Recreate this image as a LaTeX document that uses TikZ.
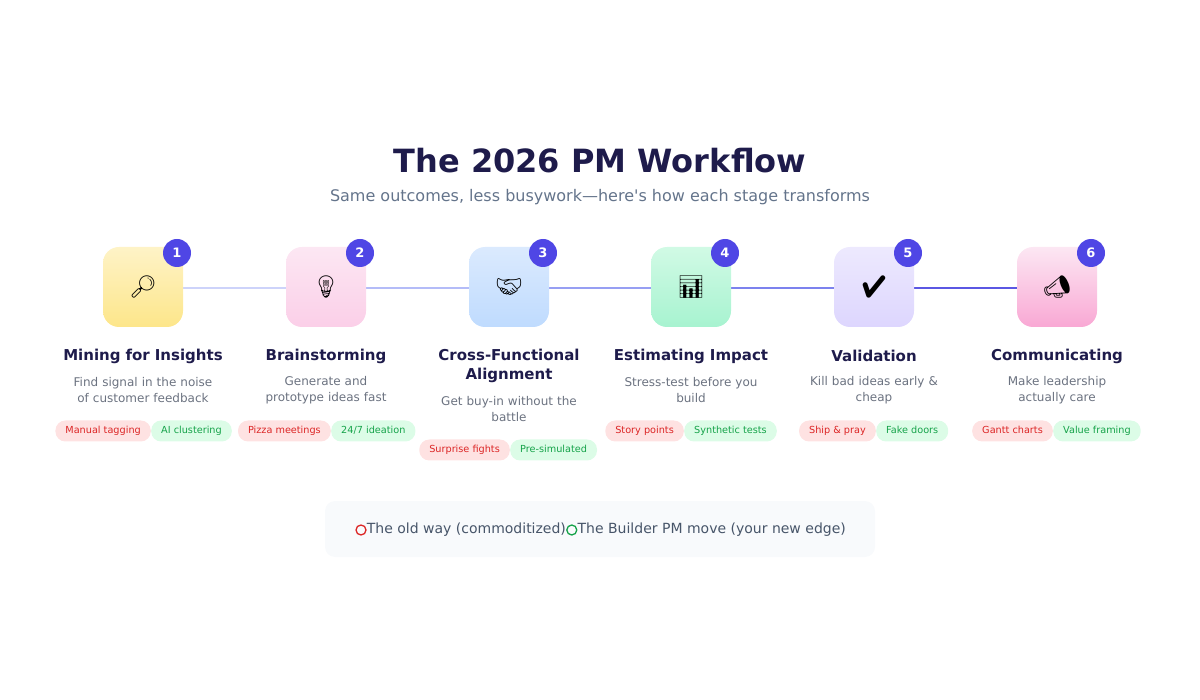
\documentclass[tikz,border=0pt]{standalone}
\usepackage{fontspec}
\setmainfont{DejaVu Sans}
\newfontfamily\emoji{Noto Emoji}
\usetikzlibrary{positioning}
\definecolor{ink}{HTML}{1E1B4B}
\definecolor{sub}{HTML}{64748B}
\definecolor{desc}{HTML}{6B7280}
\definecolor{badge}{HTML}{4F46E5}
\definecolor{redbg}{HTML}{FEE2E2}
\definecolor{redfg}{HTML}{DC2626}
\definecolor{grbg}{HTML}{DCFCE7}
\definecolor{grfg}{HTML}{16A34A}
\definecolor{lg}{HTML}{F8FAFC}
\definecolor{legtxt}{HTML}{475569}
\definecolor{la}{HTML}{CDD3FA}
\definecolor{lb}{HTML}{B4BCF8}
\definecolor{lc}{HTML}{979FF3}
\definecolor{ld}{HTML}{7C82EE}
\definecolor{le}{HTML}{5B57E3}
\definecolor{ya}{HTML}{FEF3C7}\definecolor{yb}{HTML}{FDE68A}
\definecolor{pa}{HTML}{FCE7F3}\definecolor{pb}{HTML}{FBCFE8}
\definecolor{ba}{HTML}{DBEAFE}\definecolor{bb}{HTML}{BFDBFE}
\definecolor{ga}{HTML}{D1FAE5}\definecolor{gb}{HTML}{A7F3D0}
\definecolor{va}{HTML}{EDE9FE}\definecolor{vb}{HTML}{DDD6FE}
\definecolor{qa}{HTML}{FCE7F3}\definecolor{qb}{HTML}{F9A8D4}
\tikzset{
 stepbox/.style={minimum width=80pt,minimum height=80pt,rounded corners=16pt,inner sep=0pt,font=\emoji\fontsize{22}{22}\selectfont},
 badgenode/.style={circle,fill=badge,text=white,minimum size=28pt,inner sep=0pt,font=\bfseries\fontsize{13}{13}\selectfont},
 steptitle/.style={align=center,text=ink,font=\bfseries\fontsize{15}{19}\selectfont,text width=175pt},
 stepdesc/.style={align=center,text=desc,font=\fontsize{12}{16}\selectfont,text width=175pt},
 tagbase/.style={rounded corners=10pt,minimum height=21pt,inner xsep=10pt,inner ysep=0pt,text height=7.5pt,text depth=2pt,font=\fontsize{9.7}{11}\selectfont},
 oldtag/.style={tagbase,fill=redbg,text=redfg,anchor=east},
 newtag/.style={tagbase,fill=grbg,text=grfg,anchor=west},
 conn/.style={line width=2.5pt},
 legtext/.style={inner sep=0pt,text=legtxt,font=\fontsize{14}{16}\selectfont}
}
\begin{document}
\begin{tikzpicture}[x=1pt,y=-1pt]
\useasboundingbox (0,0) rectangle (1200,700);
\node (title) at (600,161) [text=ink,font=\bfseries\fontsize{32}{38}\selectfont] {The 2026 PM Workflow};
\node (subtitle) at (600,197) [text=sub,font=\fontsize{16}{19}\selectfont] {Same outcomes, less busywork—here\textquotesingle s how each stage transforms};
\coordinate (c1) at (143,288);\coordinate (c2) at (326,288);\coordinate (c3) at (509,288);
\coordinate (c4) at (691,288);\coordinate (c5) at (874,288);\coordinate (c6) at (1057,288);
\draw[conn,la] (c1) -- (c2);
\draw[conn,lb] (c2) -- (c3);
\draw[conn,lc] (c3) -- (c4);
\draw[conn,ld] (c4) -- (c5);
\draw[conn,le] (c5) -- (c6);
\node (b1) at (143,287) [stepbox,top color=ya,bottom color=yb] {🔎};
\node (b2) at (326,287) [stepbox,top color=pa,bottom color=pb] {💡};
\node (b3) at (509,287) [stepbox,top color=ba,bottom color=bb] {🤝};
\node (b4) at (691,287) [stepbox,top color=ga,bottom color=gb] {📊};
\node (b5) at (874,287) [stepbox,top color=va,bottom color=vb] {✔};
\node (b6) at (1057,287) [stepbox,top color=qa,bottom color=qb] {📣};
\foreach \i/\x in {1/177,2/360,3/543,4/725,5/908,6/1091}
  \node (n\i) at (\x,253) [badgenode] {\i};
\node (t1) at (143,356) [steptitle] {Mining for Insights};
\node (t2) at (326,356) [steptitle] {Brainstorming};
\node (t3) at (509,365.5) [steptitle] {Cross-Functional\\Alignment};
\node (t4) at (691,356) [steptitle] {Estimating Impact};
\node (t5) at (874,356) [steptitle] {Validation};
\node (t6) at (1057,356) [steptitle] {Communicating};
\node (d1) at (143,390) [stepdesc] {Find signal in the noise\\of customer feedback};
\node (d2) at (326,390) [stepdesc] {Generate and\\prototype ideas fast};
\node (d3) at (509,409) [stepdesc] {Get buy-in without the\\battle};
\node (d4) at (691,390) [stepdesc] {Stress-test before you\\build};
\node (d5) at (874,390) [stepdesc] {Kill bad ideas early \&\\cheap};
\node (d6) at (1057,390) [stepdesc] {Make leadership\\actually care};
\node (o1) at (151,431) [oldtag] {Manual tagging};
\node (g1) at (151,431) [newtag] {AI clustering};
\node (o2) at (331,431) [oldtag] {Pizza meetings};
\node (g2) at (331,431) [newtag] {24/7 ideation};
\node (o3) at (510,450) [oldtag] {Surprise fights};
\node (g3) at (510,450) [newtag] {Pre-simulated};
\node (o4) at (684,431) [oldtag] {Story points};
\node (g4) at (684,431) [newtag] {Synthetic tests};
\node (o5) at (876,431) [oldtag] {Ship \& pray};
\node (g5) at (876,431) [newtag] {Fake doors};
\node (o6) at (1053,431) [oldtag] {Gantt charts};
\node (g6) at (1053,431) [newtag] {Value framing};
\node (legend) at (600,529) [fill=lg,rounded corners=10pt,minimum width=550pt,minimum height=56pt] {};
\node (lr) at (361,530) [circle,draw=redfg,line width=1.3pt,minimum size=10pt,inner sep=0pt] {};
\node (lrt) [right=0pt of lr,legtext] {The old way (commoditized)};
\node (lgc) [right=0pt of lrt,circle,draw=grfg,line width=1.3pt,minimum size=10pt,inner sep=0pt] {};
\node (lgt) [right=0pt of lgc,legtext] {The Builder PM move (your new edge)};
\end{tikzpicture}
\end{document}
